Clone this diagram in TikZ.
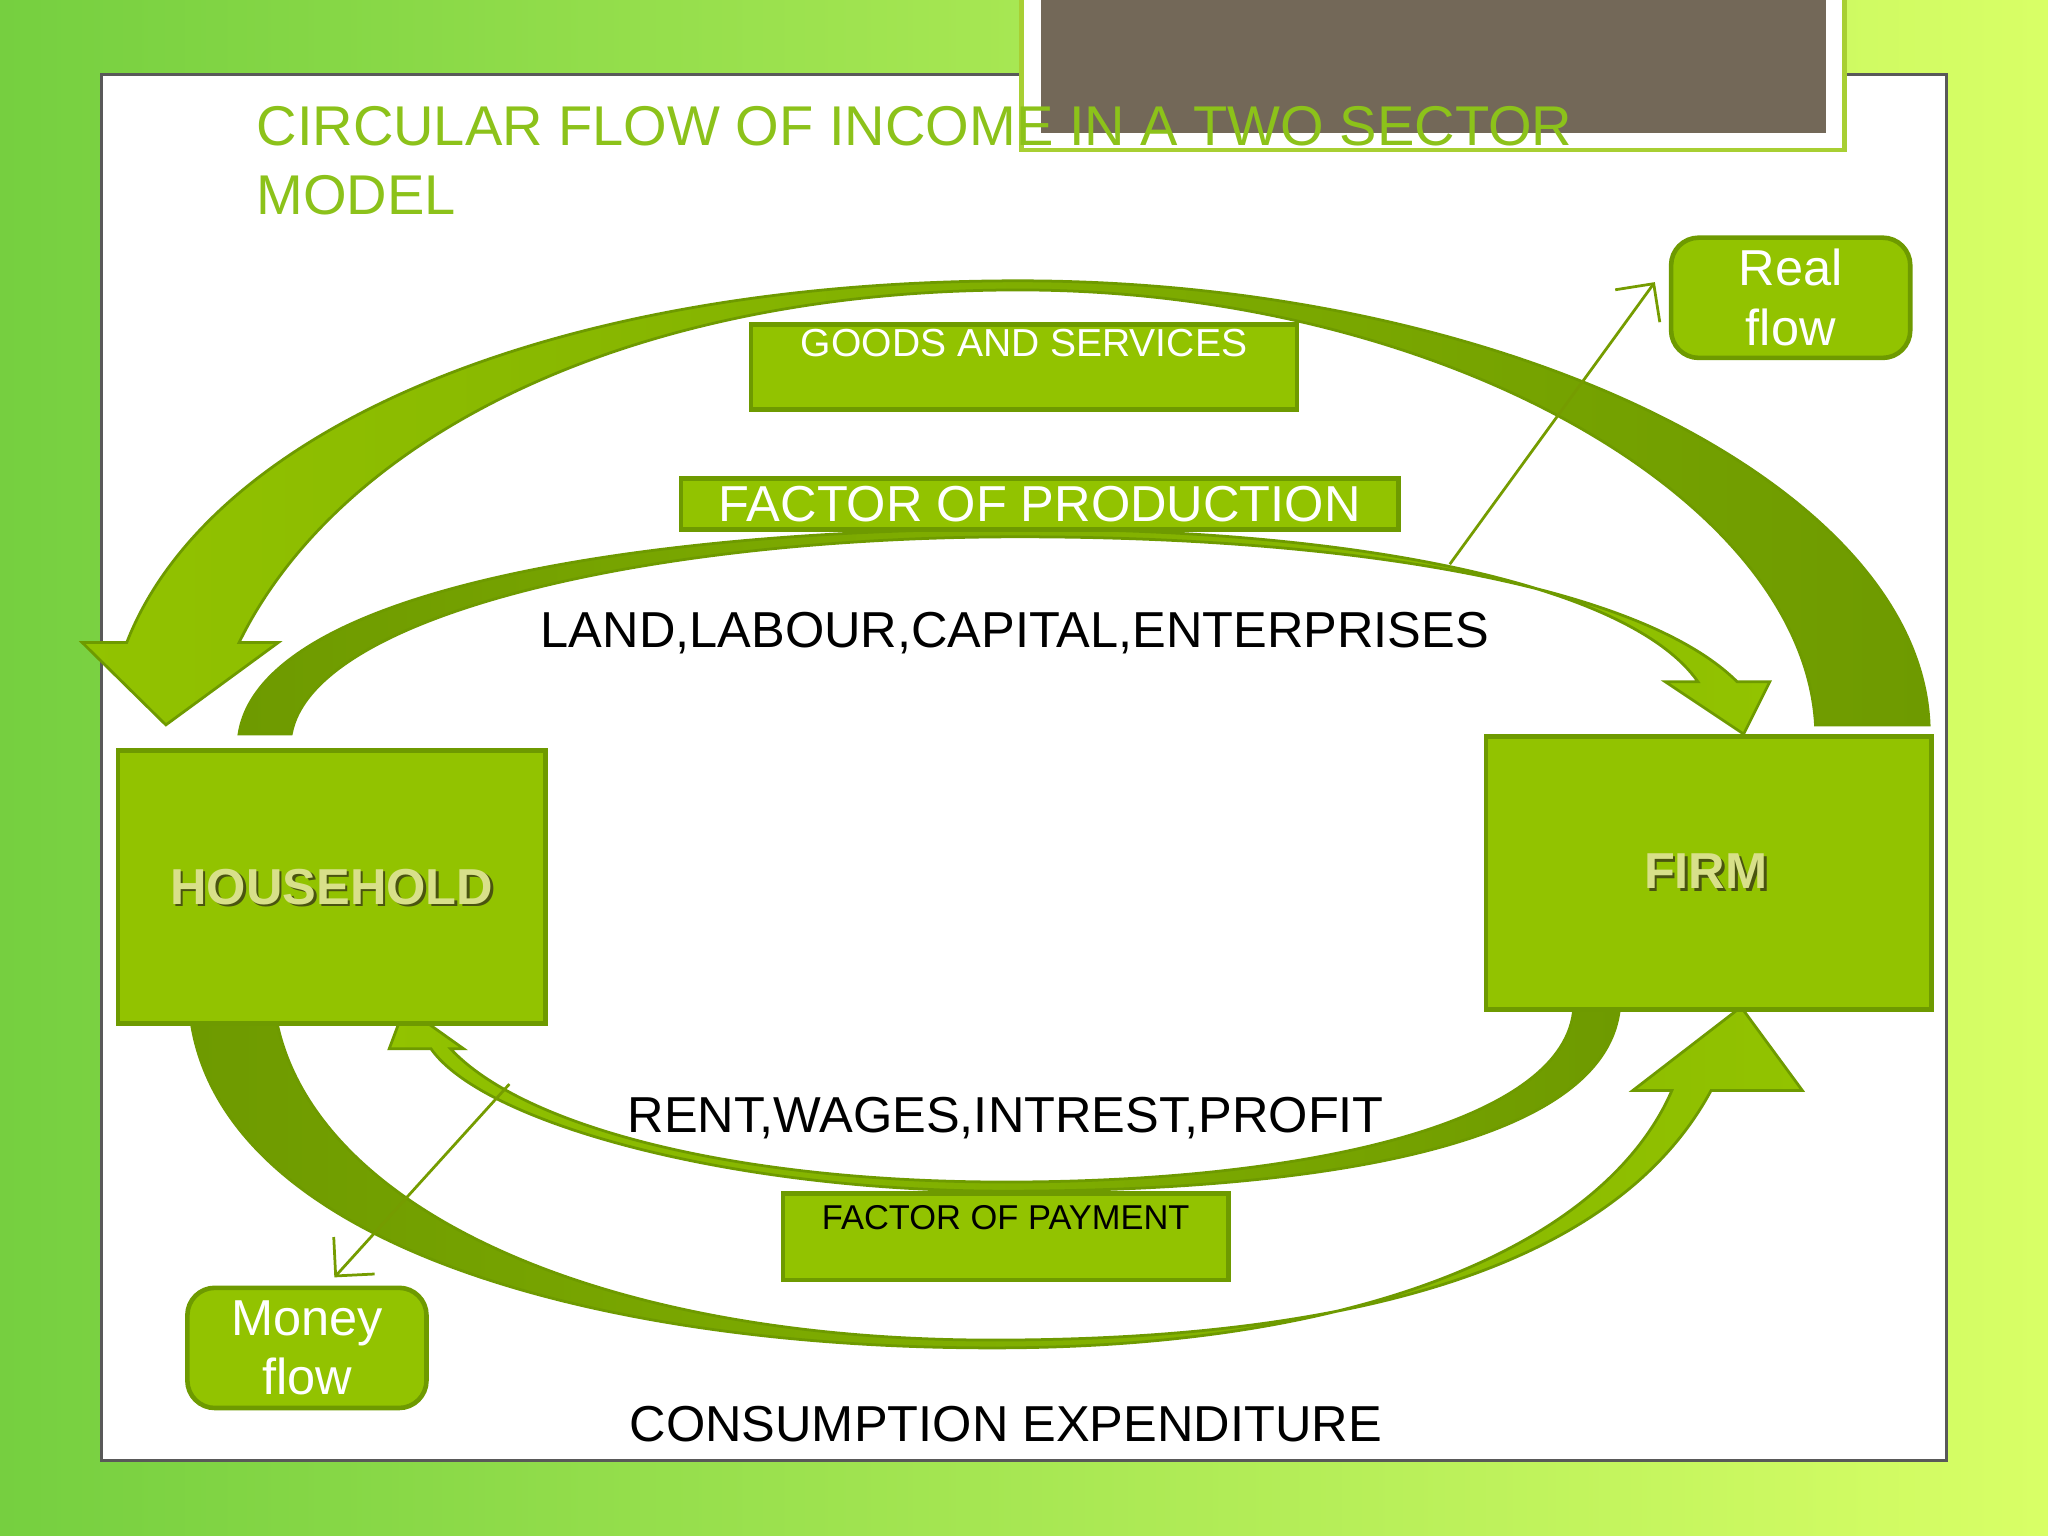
\documentclass[tikz,border=0pt]{standalone}
\usepackage{fontspec}
\setmainfont{Liberation Sans}
\usetikzlibrary{positioning,calc,arrows.meta}
\definecolor{leaf}{HTML}{92C300}
\definecolor{leafdark}{HTML}{6E9A00}
\definecolor{titlegreen}{HTML}{8CC21A}
\definecolor{slate}{HTML}{736858}
\definecolor{olive}{HTML}{D8E08A}
\definecolor{olivedark}{HTML}{4A5410}
\tikzset{
    sector/.style={rectangle, draw=leafdark, fill=leaf, line width=1pt, minimum width=3.27cm, minimum height=2.09cm},
    sectortext/.style={font=\fontsize{11}{13}\selectfont\bfseries, text=olive},
    sectorshadow/.style={font=\fontsize{11}{13}\selectfont\bfseries, text=olivedark},
    legend/.style={rectangle, draw=leafdark, fill=leaf, rounded corners=6pt, line width=1pt, minimum width=1.83cm, minimum height=0.92cm, align=center, font=\fontsize{11}{13}\selectfont, text=white, inner sep=1pt},
    tag/.style={rectangle, draw=leafdark, fill=leaf, line width=1pt},
    caption/.style={font=\fontsize{11}{13}\selectfont, text=black},
    band/.style={draw=leafdark, line width=0.6pt},
    pointer/.style={draw=leaf!80!black, -{Straight Barb[length=6pt]}, line width=0.6pt}
}
\begin{document}
\begin{tikzpicture}[x=0.01cm, y=-0.01cm]
    \useasboundingbox (0,0) rectangle (1568,1176);
    % background
    \shade[left color=green!50!lime!75!black!75, right color=lime!60!white] (0,0) rectangle (1568,1176);
    \fill[white] (78,57) rectangle (1490,1118);
    \draw[gray!70!black, line width=0.6pt] (78,57) rectangle (1490,1118);
    \fill[white] (782,0) rectangle (1412,115);
    \draw[leaf!80, line width=1pt] (782,-5) rectangle (1412,115);
    \fill[slate] (797,0) rectangle (1398,102);
    % title
    \node[anchor=west, text=titlegreen, font=\fontsize{12.2}{15}\selectfont, align=left] (title) at (184,123)
        {CIRCULAR FLOW OF INCOME IN A TWO SECTOR\\MODEL};

    % goods and services band
    \shade[band, left color=leaf, right color=leafdark]
        (1477,555) .. controls (1470,370) and (1150,215) .. (780,215)
        .. controls (420,215) and (160,330) .. (97,492) -- (63,492) -- (127,555) -- (213,492) -- (183,492)
        .. controls (260,335) and (480,222) .. (780,222)
        .. controls (1100,222) and (1380,380) .. (1390,555) -- cycle;
    % factor of production band
    \shade[band, left color=leafdark, right color=leaf]
        (183,562) .. controls (200,450) and (500,405) .. (780,405)
        .. controls (1050,405) and (1250,450) .. (1300,522) -- (1275,522) -- (1335,562) -- (1355,522) -- (1330,522)
        .. controls (1260,452) and (1050,411) .. (780,411)
        .. controls (500,411) and (240,470) .. (223,562) -- cycle;
    % consumption band
    \shade[band, left color=leafdark, right color=leaf]
        (145,771) .. controls (160,950) and (450,1032) .. (760,1032)
        .. controls (1050,1032) and (1230,950) .. (1280,835) -- (1250,835) -- (1333,771) -- (1380,835) -- (1310,835)
        .. controls (1240,965) and (1050,1026) .. (760,1026)
        .. controls (450,1026) and (230,920) .. (210,771) -- cycle;
    % factor payment band
    \shade[band, left color=leaf, right color=leafdark]
        (1240,771) .. controls (1230,880) and (1000,912) .. (770,912)
        .. controls (560,912) and (370,860) .. (330,803) -- (298,803) -- (310,771) -- (355,803) -- (345,803)
        .. controls (400,862) and (560,905) .. (770,905)
        .. controls (1000,905) and (1200,860) .. (1205,771) -- cycle;

    % sectors
    \node[sector] (household) at (254,679) {};
    \node[sectorshadow] (householdshadow) at (256,681) {HOUSEHOLD};
    \node[sectortext] (householdlabel) at (254,679) {HOUSEHOLD};
    \node[sector, minimum width=3.41cm, anchor=north west] (firm) at (1136,562) {};
    \node[sectorshadow] (firmshadow) at (1308,669) {FIRM};
    \node[sectortext] (firmlabel) at (1306,667) {FIRM};

    % labels
    \node[tag, minimum width=4.18cm, minimum height=0.65cm] (goods) at (784,281) {};
    \node[text=white, font=\fontsize{8.5}{10}\selectfont] (goodstext) at (784,263) {GOODS AND SERVICES};
    \node[tag, minimum width=5.49cm, minimum height=0.39cm, inner sep=0pt, text=white, font=\fontsize{11}{13}\selectfont] (production) at (796,386) {FACTOR OF PRODUCTION};
    \node[tag, minimum width=3.41cm, minimum height=0.66cm] (payment) at (770,947) {};
    \node[text=black, font=\fontsize{7.5}{9}\selectfont] (paymenttext) at (770,932) {FACTOR OF PAYMENT};
    \node[caption] (factors) at (777,485) {LAND,LABOUR,CAPITAL,ENTERPRISES};
    \node[caption] (incomes) at (770,856) {RENT,WAGES,INTREST,PROFIT};
    \node[caption] (spending) at (770,1090) {CONSUMPTION EXPENDITURE};

    % legend
    \node[legend] (real) at (1371,228) {Real\\flow};
    \node[legend] (money) at (235,1032) {Money\\flow};
    \coordinate (realfrom) at (1110,432);
    \coordinate (realto) at (1267,216);
    \coordinate (moneyfrom) at (390,830);
    \coordinate (moneyto) at (256,978);
    \draw[pointer] (realfrom) -- (realto);
    \draw[pointer] (moneyfrom) -- (moneyto);
\end{tikzpicture}
\end{document}
